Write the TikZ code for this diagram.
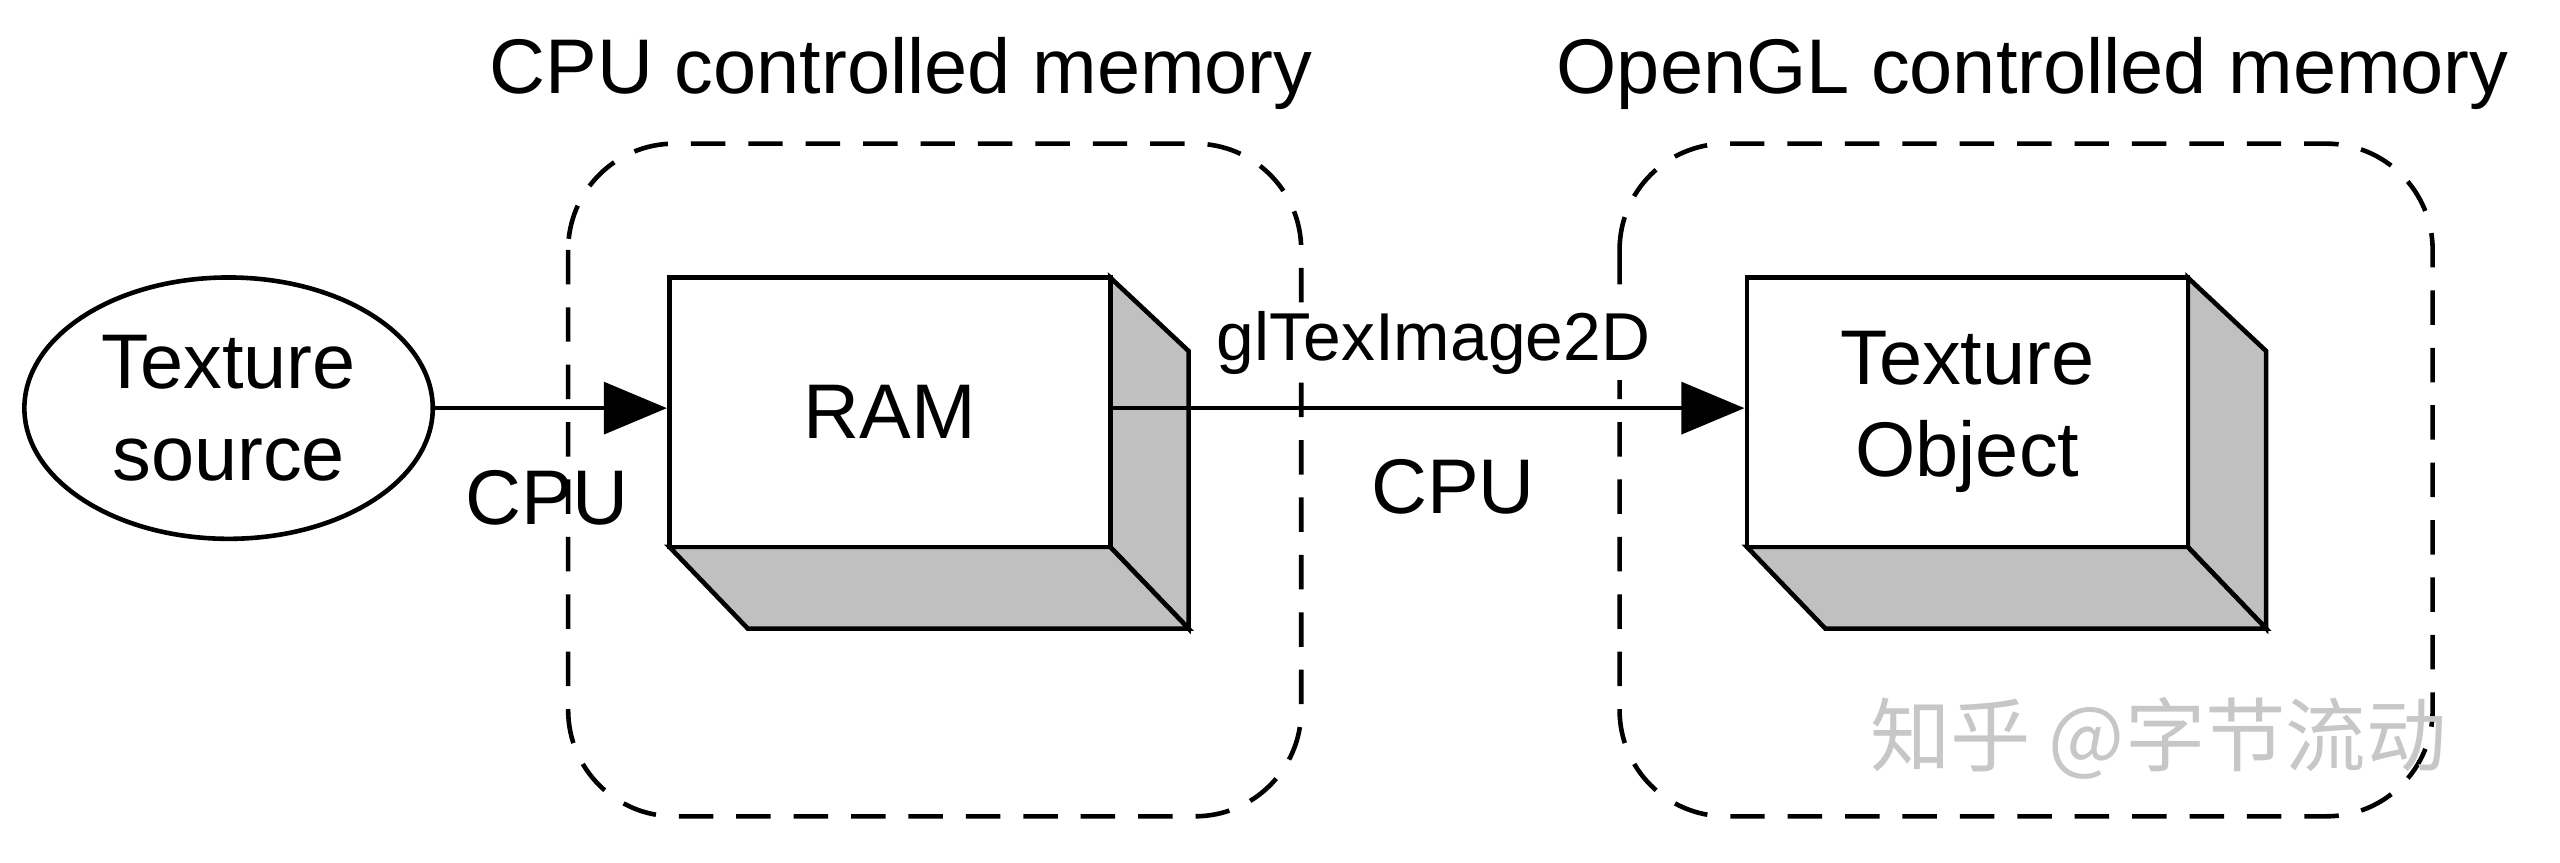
\documentclass[tikz,border=0pt]{standalone}
\usepackage{fontspec}
\setmainfont{Liberation Sans}
\newfontfamily\cjk{Noto Sans CJK SC}
\usetikzlibrary{shapes.geometric,arrows.meta}
\definecolor{side}{HTML}{C0C0C0}
\begin{document}
\begin{tikzpicture}[x=0.01cm,y=-0.01cm,
  txt/.style={font=\fontsize{13.5}{16}\selectfont,align=center,inner sep=0},
  dashbox/.style={draw,thick,dash pattern=on 6pt off 4pt,rounded corners=0.65cm},
  face/.style={draw,thick,fill=side},
  arr/.style={thick,-{Triangle[length=11pt,width=9pt]}}]
\useasboundingbox (0,0) rectangle (1568,528);
\draw[dashbox] (348,88) rectangle (797,500);
\draw[dashbox] (992,88) rectangle (1490,500);
\node[txt] (t1) at (552,45) {CPU controlled memory};
\node[txt] (t2) at (1245,45) {OpenGL controlled memory};
\node[draw,thick,ellipse,inner sep=0,minimum width=2.5cm,minimum height=1.6cm,txt] (src) at (140,250) {Texture\\source};
% RAM box
\draw[face] (680,170) -- (728,215) -- (728,385) -- (680,335) -- cycle;
\draw[face] (410,335) -- (680,335) -- (728,385) -- (458,385) -- cycle;
\node[draw,thick,fill=white,minimum width=2.7cm,minimum height=1.65cm,txt] (ram) at (545,252.5) {RAM};
% Texture object box
\draw[face] (1340,170) -- (1388,215) -- (1388,385) -- (1340,335) -- cycle;
\draw[face] (1070,335) -- (1340,335) -- (1388,385) -- (1118,385) -- cycle;
\node[draw,thick,fill=white,minimum width=2.7cm,minimum height=1.65cm,txt] (tex) at (1205,252.5) {Texture\\Object};
\draw[arr] (src.east) -- (src.east -| ram.west);
\node[txt,font=\fontsize{11.8}{14}\selectfont,fill=white,inner sep=1pt] (gl) at (878,210) {glTexImage2D};
\draw[arr] (ram.east |- src.east) -- (src.east -| tex.west);
\node[txt] (c1) at (335,305) {CPU};
\node[txt] (c2) at (890,298) {CPU};
\node[font=\cjk\fontsize{14}{16}\selectfont,text=black!22,inner sep=0] (wm) at (1322,452) {知乎 @字节流动};
\end{tikzpicture}
\end{document}
